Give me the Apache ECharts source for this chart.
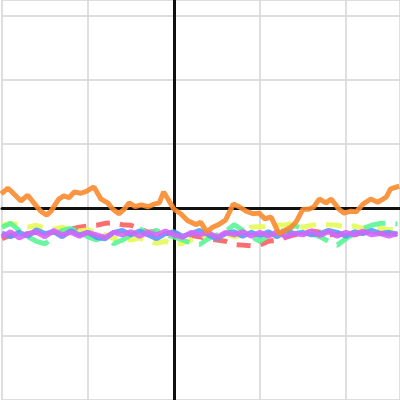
<!DOCTYPE html>
<html>
<head>
<meta charset="utf-8">
<script src="https://cdn.jsdelivr.net/npm/echarts@6/dist/echarts.min.js"></script>
<style>html,body{margin:0;padding:0;background:#fff}#chart{width:400px;height:400px}</style>
</head>
<body>
<div id="chart"></div>
<script>
// orange walk, read point by point
var orangeX = [-2.01,-1.93,-1.84,-1.78,-1.70,-1.63,-1.55,-1.48,-1.43,-1.34,-1.28,-1.22,-1.16,-1.08,-1.02,-0.93,-0.85,-0.77,-0.71,-0.64,-0.58,-0.52,-0.45,-0.38,-0.30,-0.23,-0.17,-0.12,-0.07,0,0.08,0.16,0.26,0.31,0.38,0.45,0.52,0.60,0.69,0.76,0.84,0.92,0.99,1.06,1.13,1.22,1.28,1.36,1.42,1.50,1.57,1.63,1.69,1.77,1.83,1.92,1.98,2.06,2.12,2.20,2.29,2.37,2.47,2.52,2.62];
var orangeY = [0.22,0.31,0.19,0.11,0.20,0.08,-0.05,-0.11,-0.05,0.14,0.19,0.16,0.25,0.23,0.26,0.33,0.14,0.08,-0.02,-0.09,-0.02,0.08,0.02,0.05,0.02,0.06,0.08,0.25,0.14,-0.02,-0.09,-0.20,-0.26,-0.22,-0.37,-0.30,-0.26,-0.19,0.06,0.02,-0.05,-0.09,-0.08,-0.17,-0.14,-0.40,-0.36,-0.30,-0.22,-0.02,-0.02,0.02,0.14,0.08,0.14,-0.02,-0.08,-0.05,-0.06,0.06,0.14,0.09,0.17,0.30,0.34];

// the other five share one x grid
var xs = [-2.0,-1.9,-1.8,-1.7,-1.6,-1.5,-1.4,-1.3,-1.2,-1.1,-1.0,-0.9,-0.8,-0.7,-0.6,-0.5,-0.4,-0.3,-0.2,-0.1,0.0,0.1,0.2,0.3,0.4,0.5,0.6,0.7,0.8,0.9,1.0,1.1,1.2,1.3,1.4,1.5,1.6,1.7,1.8,1.9,2.0,2.1,2.2,2.3,2.4,2.5,2.6];
var greenY = [-0.30,-0.24,-0.35,-0.45,-0.52,-0.56,-0.45,-0.35,-0.32,-0.38,-0.45,-0.50,-0.44,-0.56,-0.50,-0.42,-0.32,-0.40,-0.35,-0.42,-0.45,-0.50,-0.55,-0.57,-0.48,-0.42,-0.37,-0.26,-0.35,-0.45,-0.52,-0.42,-0.33,-0.38,-0.27,-0.33,-0.40,-0.45,-0.52,-0.58,-0.48,-0.40,-0.32,-0.27,-0.24,-0.24,-0.25];
var yellowY = [-0.27,-0.24,-0.26,-0.30,-0.27,-0.32,-0.33,-0.30,-0.35,-0.36,-0.34,-0.38,-0.42,-0.48,-0.46,-0.50,-0.47,-0.52,-0.55,-0.52,-0.57,-0.55,-0.50,-0.42,-0.45,-0.43,-0.40,-0.45,-0.42,-0.30,-0.29,-0.30,-0.27,-0.26,-0.24,-0.30,-0.27,-0.25,-0.26,-0.27,-0.30,-0.28,-0.32,-0.30,-0.32,-0.34,-0.33];
var redY = [-0.48,-0.42,-0.42,-0.40,-0.38,-0.40,-0.38,-0.36,-0.33,-0.30,-0.28,-0.27,-0.24,-0.23,-0.26,-0.27,-0.32,-0.38,-0.36,-0.40,-0.40,-0.42,-0.43,-0.45,-0.48,-0.50,-0.52,-0.57,-0.58,-0.59,-0.58,-0.52,-0.50,-0.46,-0.42,-0.40,-0.36,-0.38,-0.42,-0.41,-0.40,-0.42,-0.38,-0.36,-0.38,-0.40,-0.39];
var blueY = [-0.39,-0.45,-0.38,-0.44,-0.34,-0.40,-0.37,-0.45,-0.35,-0.42,-0.38,-0.46,-0.48,-0.38,-0.35,-0.42,-0.36,-0.42,-0.48,-0.40,-0.37,-0.44,-0.40,-0.35,-0.42,-0.48,-0.40,-0.37,-0.44,-0.38,-0.43,-0.37,-0.45,-0.35,-0.40,-0.38,-0.42,-0.40,-0.35,-0.38,-0.44,-0.37,-0.40,-0.35,-0.40,-0.38,-0.41];
var purpleY = [-0.45,-0.37,-0.47,-0.40,-0.38,-0.45,-0.35,-0.42,-0.38,-0.44,-0.38,-0.42,-0.46,-0.38,-0.42,-0.37,-0.44,-0.38,-0.42,-0.36,-0.42,-0.46,-0.38,-0.42,-0.38,-0.46,-0.38,-0.42,-0.37,-0.44,-0.38,-0.44,-0.37,-0.45,-0.40,-0.42,-0.36,-0.43,-0.37,-0.44,-0.38,-0.42,-0.36,-0.42,-0.40,-0.44,-0.40];

function pairs(x, y){ return x.map(function(v, i){ return [v, y[i]]; }); }

var chart = echarts.init(document.getElementById('chart'));

function line(data, color, type, z){
  return {
    type: 'line', data: data, showSymbol: false, z: z,
    lineStyle: {color: color, width: 5, type: type, opacity: 0.9},
    itemStyle: {color: color}
  };
}

chart.setOption({
  animation: false,
  grid: {left: 2, right: 0, top: 0, bottom: -2},
  xAxis: {
    type: 'value', min: -2, max: 2.63, interval: 1,
    axisLine: {onZero: true, lineStyle: {color: '#111', width: 3}},
    axisTick: {show: false}, axisLabel: {show: false},
    splitLine: {lineStyle: {color: '#d4d4d4', width: 1.5}}
  },
  yAxis: {
    type: 'value', min: -3, max: 3.25, interval: 1,
    axisLine: {onZero: true, lineStyle: {color: '#111', width: 3}},
    axisTick: {show: false}, axisLabel: {show: false},
    splitLine: {lineStyle: {color: '#d4d4d4', width: 1.5}}
  },
  series: [
    line(pairs(xs, redY), '#fb5f5f', [14, 10], 2),
    line(pairs(xs, yellowY), '#e6fb55', [16, 10], 2),
    line(pairs(xs, greenY), '#5af596', [22, 10], 3),
    line(pairs(xs, blueY), '#5a98f8', 'solid', 4),
    line(pairs(xs, purpleY), '#d466f8', 'solid', 5),
    line(pairs(orangeX, orangeY), '#f98a2c', 'solid', 6)
  ]
});
</script>
</body>
</html>
